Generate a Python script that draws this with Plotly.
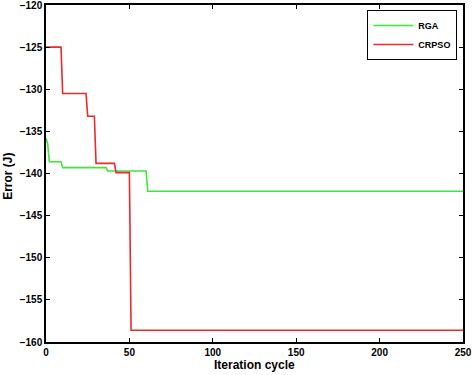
import plotly.graph_objects as go

# Data (breakpoints)
rga_x = [0, 1, 2, 9, 10, 36, 37, 60, 61, 250]
rga_y = [-135.8, -136.5, -138.6, -138.6, -139.3, -139.3, -139.7, -139.7, -142.1, -142.1]

crpso_x = [0, 9, 10, 24, 25, 29, 30, 41, 42, 50, 51, 250]
crpso_y = [-125.0, -125.0, -130.5, -130.5, -133.2, -133.2, -138.8, -138.8, -139.9, -139.9, -158.6, -158.6]

x_ticks = [0, 50, 100, 150, 200, 250]
y_ticks = [-120, -125, -130, -135, -140, -145, -150, -155, -160]

x_title = "Iteration cycle"
y_title = "Error (J)"

font_family = "Liberation Sans, Arial, sans-serif"

fig = go.Figure()
fig.add_trace(go.Scatter(x=rga_x, y=rga_y, mode="lines", name="RGA",
                         line=dict(color="#3ce83c", width=1.6)))
fig.add_trace(go.Scatter(x=crpso_x, y=crpso_y, mode="lines", name="CRPSO",
                         line=dict(color="#ec2a2a", width=1.6)))

axis_common = dict(
    showgrid=False, zeroline=False, showline=True, linecolor="black", linewidth=1.5,
    mirror="allticks", ticks="inside", ticklen=4, tickwidth=1, tickcolor="black",
    tickfont=dict(family=font_family, size=10, color="black", weight="bold"),
    automargin=False, ticklabeloverflow="allow",
)

W, H = 474, 375
ML, MR, MT, MB = 46, 11, 5, 33

fig.update_layout(
    width=W, height=H,
    margin=dict(l=ML, r=MR, t=MT, b=MB),
    paper_bgcolor="white", plot_bgcolor="white",
    showlegend=True,
    legend=dict(x=0.9865, y=0.985, xanchor="right", yanchor="top",
                bgcolor="white", bordercolor="black", borderwidth=1,
                font=dict(family=font_family, size=9, color="black", weight="bold"),
                tracegroupgap=0, itemwidth=40),
    xaxis=dict(range=[0, 250], tickvals=x_ticks, **axis_common),
    yaxis=dict(range=[-160, -120], tickvals=y_ticks, **axis_common),
    annotations=[
        dict(text=x_title, xref="paper", yref="paper", x=0.5, y=-(365 - (H - MB)) / (H - MT - MB),
             xanchor="center", yanchor="middle", showarrow=False,
             font=dict(family=font_family, size=12, color="black", weight="bold")),
        dict(text=y_title, xref="paper", yref="paper", x=-(ML - 8) / (W - ML - MR), y=0.49,
             xanchor="center", yanchor="middle", showarrow=False, textangle=-90,
             font=dict(family=font_family, size=12, color="black", weight="bold")),
    ],
)

fig.write_html("out.html", config={"displayModeBar": False},
               post_script="document.body.style.margin='0';document.body.style.overflow='hidden';")
